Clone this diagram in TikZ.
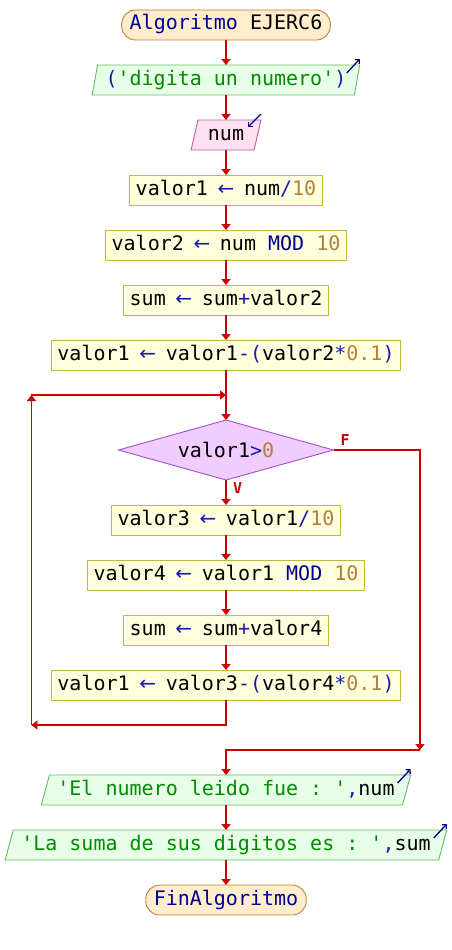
\documentclass[tikz,border=0pt]{standalone}
\usepackage{fontspec}
\setmonofont{DejaVu Sans Mono}
\newfontfamily\arrowfont{DejaVu Sans}
\usepackage{tikz}
\usetikzlibrary{shapes.geometric, arrows.meta, positioning, calc}
\definecolor{flowred}{HTML}{CC0000}
\definecolor{termfill}{HTML}{FFEDCC}
\definecolor{termborder}{HTML}{C08040}
\definecolor{procfill}{HTML}{FFFFDD}
\definecolor{procborder}{HTML}{C0B840}
\definecolor{outfill}{HTML}{E6FFE6}
\definecolor{outborder}{HTML}{66BB66}
\definecolor{infill}{HTML}{FFE0F0}
\definecolor{inborder}{HTML}{C0609A}
\definecolor{condfill}{HTML}{F0CCFF}
\definecolor{condborder}{HTML}{A050D0}
\definecolor{kwblue}{HTML}{000090}
\definecolor{opblue}{HTML}{1A1AB0}
\definecolor{nmbbrown}{HTML}{B08040}
\definecolor{strgreen}{HTML}{008C00}
\newcommand{\kw}[1]{\textcolor{kwblue}{#1}}
\newcommand{\opr}[1]{\textcolor{opblue}{#1}}
\newcommand{\nmb}[1]{\textcolor{nmbbrown}{#1}}
\newcommand{\strg}[1]{\textcolor{strgreen}{#1}}
\newcommand{\asg}{\makebox[12pt]{\textcolor{opblue}{\arrowfont ←}}}

\begin{document}
\begin{tikzpicture}[
  x=1pt, y=1pt,
  node distance=25pt,
  every node/.style={font=\ttfamily\fontsize{20}{24}\selectfont, outer sep=0pt},
  box/.style={line width=0.9pt, minimum height=30pt, text height=15pt, text depth=5pt, inner ysep=0pt},
  term/.style={box, rectangle, rounded corners=14pt, draw=termborder, fill=termfill, inner xsep=8pt},
  proc/.style={box, rectangle, draw=procborder, fill=procfill, inner xsep=6pt},
  outp/.style={box, trapezium, trapezium stretches body, trapezium left angle=71, trapezium right angle=109, draw=outborder, fill=outfill, inner xsep=8pt},
  inp/.style={outp, draw=inborder, fill=infill, inner xsep=10pt},
  decision/.style={diamond, aspect=3.6, draw=condborder, line width=0.9pt, fill=condfill, minimum width=215pt, minimum height=60pt, inner sep=0pt},
  flow/.style={draw=flowred, line width=1.6pt, -{Triangle[width=9pt,length=6pt]}},
  ioarrow/.style={draw=kwblue, line width=1.3pt, -{Straight Barb[length=3pt,width=6pt]}},
  lbl/.style={font=\ttfamily\bfseries\fontsize{15}{15}\selectfont, text=flowred, inner sep=0pt}
]
  \useasboundingbox (0,0) rectangle (452,-950);

  \node[term] (start) at (226,-25) {\kw{Algoritmo} EJERC6};
  \node[outp, trapezium left angle=75, trapezium right angle=105, below=of start] (out0) {\opr{(}\strg{'digita un numero'}\opr{)}};
  \node[inp, below=of out0] (in) {num};
  \node[proc, below=of in] (p1) {valor1 \asg{} num\opr{/}\nmb{10}};
  \node[proc, below=of p1] (p2) {valor2 \asg{} num \kw{MOD} \nmb{10}};
  \node[proc, below=of p2] (p3) {sum \asg{} sum\opr{+}valor2};
  \node[proc, below=of p3] (p4) {valor1 \asg{} valor1\opr{-(}valor2\opr{*}\nmb{0.1}\opr{)}};
  \node[decision, below=50pt of p4] (cond) {valor1\opr{>}\nmb{0}};
  \node[proc, below=of cond] (p5) {valor3 \asg{} valor1\opr{/}\nmb{10}};
  \node[proc, below=of p5] (p6) {valor4 \asg{} valor1 \kw{MOD} \nmb{10}};
  \node[proc, below=of p6] (p7) {sum \asg{} sum\opr{+}valor4};
  \node[proc, below=of p7] (p8) {valor1 \asg{} valor3\opr{-(}valor4\opr{*}\nmb{0.1}\opr{)}};
  \node[outp, trapezium left angle=68, trapezium right angle=112, below=75pt of p8] (out1) {\strg{'El numero leido fue : '}\opr{,}num};
  \node[outp, trapezium left angle=68, trapezium right angle=112, below=of out1] (out2) {\strg{'La suma de sus digitos es : '}\opr{,}sum};
  \node[term, below=of out2] (end) {\kw{FinAlgoritmo}};

  \draw[ioarrow] ([xshift=-13pt,yshift=-8pt]out0.top right corner) -- ([yshift=6pt]out0.top right corner);
  \draw[ioarrow] ([yshift=6pt]in.top right corner) -- ([xshift=-13pt,yshift=-7pt]in.top right corner);
  \draw[ioarrow] ([xshift=-13pt,yshift=-8pt]out1.top right corner) -- ([yshift=6pt]out1.top right corner);
  \draw[ioarrow] ([xshift=-13pt,yshift=-8pt]out2.top right corner) -- ([yshift=6pt]out2.top right corner);

  \draw[flow] (start) -- (out0);
  \draw[flow] (out0) -- (in);
  \draw[flow] (in) -- (p1);
  \draw[flow] (p1) -- (p2);
  \draw[flow] (p2) -- (p3);
  \draw[flow] (p3) -- (p4);
  \draw[flow] (p4) -- (cond);
  \draw[flow] (cond) -- (p5);
  \draw[flow] (p5) -- (p6);
  \draw[flow] (p6) -- (p7);
  \draw[flow] (p7) -- (p8);
  \draw[flow] (out1) -- (out2);
  \draw[flow] (out2) -- (end);

  \coordinate (lpjoin) at ([yshift=25pt]cond.north);
  \coordinate (lpbot) at ($(p8.south west)+(-20pt,-25pt)$);
  \coordinate (lptop) at (lpbot |- lpjoin);
  \draw[flow] (p8.south) |- (lpbot);
  \draw[flow] (lpbot) -- (lptop);
  \draw[flow] (lptop) -- (lpjoin);

  \coordinate (fx) at ([xshift=86.5pt]cond.east);
  \coordinate (fy) at ([yshift=25pt]out1.north);
  \coordinate (fright) at (fx |- fy);
  \draw[flow] (cond.east) -| (fright);
  \draw[flow] (fright) -| (out1.north);

  \node[lbl, anchor=base west] (flbl) at ([xshift=7pt,yshift=5pt]cond.east) {F};
  \node[lbl, anchor=base west] (vlbl) at ([xshift=7pt,yshift=-13pt]cond.south) {V};
\end{tikzpicture}
\end{document}
